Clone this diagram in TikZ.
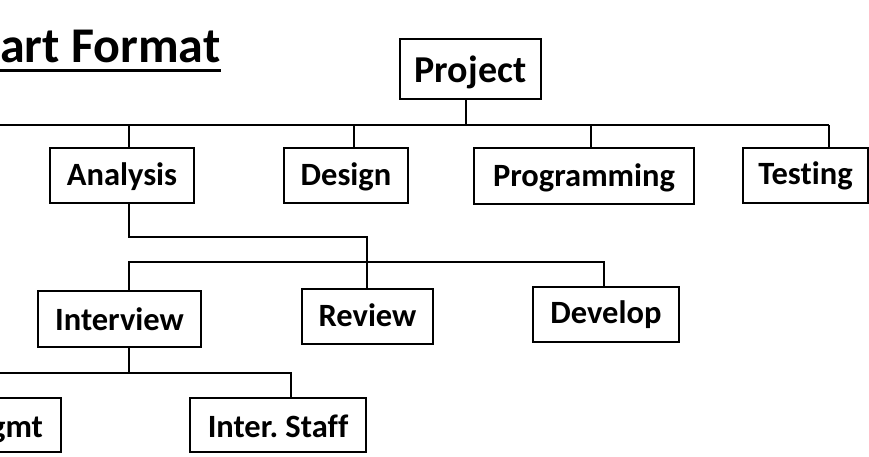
\documentclass[tikz,border=0pt]{standalone}
\usepackage{fontspec}
\setmainfont{Carlito}[RawFeature=-liga]
\begin{document}
\begin{tikzpicture}[x=1pt,y=-1pt,
  bx/.style={draw=black,line width=1.6pt,inner sep=0pt,align=center,
    text height=23pt,text depth=3pt,font=\bfseries\fontsize{32.5}{36}\selectfont},
  ln/.style={draw=black,line width=1.4pt},
  txt/.style={inner sep=0pt}]
\useasboundingbox (0,0) rectangle (869,456);
\clip (0,0) rectangle (869,456);
\fill[white] (0,0) rectangle (869,456);
% title
\node[txt,anchor=base west,font=\bfseries\fontsize{50}{56}\selectfont] (title) at (0,62) {art Format};
\draw[line width=3pt] ([xshift=-3pt,yshift=-8pt]title.base west) -- ([yshift=-8pt]title.base east);
% boxes
\node[bx,minimum width=141,minimum height=60,text height=30pt,text depth=4pt,font=\bfseries\fontsize{38}{42}\selectfont] (project) at (470.5,69) {Project};
\node[bx,minimum width=144,minimum height=55] (analysis) at (122,175.5) {Analysis};
\node[bx,minimum width=124,minimum height=55] (design) at (346,175.5) {Design};
\node[bx,minimum width=220,minimum height=56] (programming) at (584,176) {Programming};
\node[bx,minimum width=125,minimum height=55,text height=22pt,text depth=4pt] (testing) at (805.5,175.5) {Testing};
\node[bx,minimum width=163,minimum height=56,text height=24pt,text depth=2pt] (interview) at (119.5,319) {Interview};
\node[bx,minimum width=131,minimum height=55] (review) at (367.5,316.5) {Review};
\node[bx,minimum width=146,minimum height=55,text height=22pt,text depth=4pt] (develop) at (606,314.5) {Develop};
\node[bx,minimum width=176,minimum height=54,text height=25pt,text depth=1pt] (staff) at (278,425) {Inter.\ Staff};
\node[bx,minimum width=141,minimum height=54,text height=25pt,text depth=1pt] (mgmt) at (-9.5,425) {\makebox[105pt][r]{gmt}};
% bus coordinates
\coordinate (b1L) at (-5,125);
\coordinate (b1R) at (829,125);
% connectors level 1
\draw[ln] (466,0 |- project.south) -- (466,125);
\draw[ln] (b1L) -- (b1R);
\draw[ln] (129,125) -- (129,0 |- analysis.north);
\draw[ln] (354,125) -- (354,0 |- design.north);
\draw[ln] (591,125) -- (591,0 |- programming.north);
\draw[ln] (b1R) -- (829,0 |- testing.north);
% analysis children
\draw[ln] (129,0 |- analysis.south) -- (129,237) -- (367,237) -- (367,0 |- review.north);
\coordinate (b2L) at (129,262);
\coordinate (b2R) at (604,262);
\draw[ln] (129,0 |- interview.north) -- (b2L) -- (b2R) -- (604,0 |- develop.north);
% interview children
\coordinate (b3L) at (-5,373);
\coordinate (b3R) at (291,373);
\draw[ln] (129,0 |- interview.south) -- (129,373);
\draw[ln] (b3L) -- (b3R) -- (291,0 |- staff.north);
\end{tikzpicture}
\end{document}
